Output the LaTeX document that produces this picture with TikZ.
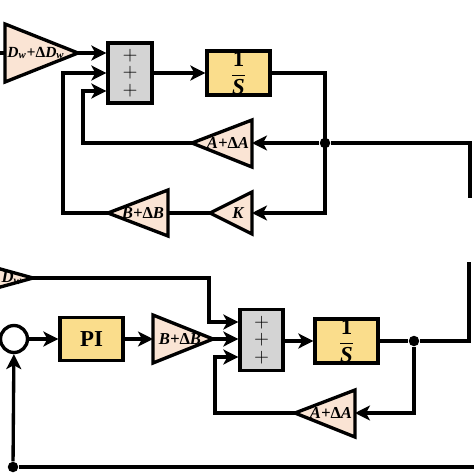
\documentclass[tikz,border=0pt]{standalone}
\usepackage{fontspec}
\setmainfont{Liberation Serif}
\usetikzlibrary{arrows.meta}
\definecolor{trifill}{RGB}{250,228,212}
\definecolor{intfill}{RGB}{250,221,140}
\definecolor{sumfill}{RGB}{212,212,212}
\tikzset{
 ln/.style={line width=1.9pt, line join=miter},
 arr/.style={ln, -{Stealth[length=0.3cm,width=0.3cm,inset=0.08cm]}},
 tri/.style={ln, draw, fill=trifill},
 trilabel/.style={font=\fontsize{9.5}{9.5}\selectfont\bfseries\itshape, inner sep=0pt},
 sumbox/.style={ln, draw, fill=sumfill, minimum width=0.88cm, minimum height=1.2cm, inner sep=0pt, align=center, font=\fontsize{11}{9.8}\selectfont},
 intbox/.style={ln, draw, fill=intfill, minimum width=1.26cm, minimum height=0.84cm, inner sep=0pt, font=\fontsize{13}{12}\selectfont\bfseries},
 jdot/.style={circle, fill=black, minimum size=0.21cm, inner sep=0pt},
}
\newcommand{\oneS}{$\displaystyle\frac{\mbox{\bfseries 1}}{\mbox{\bfseries\itshape S}}$}
\begin{document}
\begin{tikzpicture}[x=0.02cm,y=-0.02cm]
\useasboundingbox (0,0) rectangle (474,474);
% ---------------- top loop ----------------
\coordinate (inL) at (-5,53);
\draw[tri] (5,24) -- (5,82) -- (78,53) -- cycle;
\coordinate (t1base) at (5,53);
\coordinate (t1tip) at (78,53);
\node[trilabel, font=\fontsize{8.8}{9}\selectfont\bfseries\itshape] (t1) at (36,53) {D\textsubscript{w}+{\upshape Δ}D\textsubscript{w}};
\draw[ln] (inL) -- (t1base);

\node[sumbox] (s1) at (130,73) {$+$\\$+$\\$+$};
\node[intbox] (i1) at (238.5,73) {\oneS};

% A+dA top
\draw[tri] (252,120) -- (252,167) -- (192,143) -- cycle;
\coordinate (a1base) at (252,143);
\coordinate (a1tip) at (192,143);
\node[trilabel] (a1) at (228,143) {A+{\upshape Δ}A};
% K
\draw[tri] (252,192) -- (252,234) -- (210,213) -- cycle;
\coordinate (kbase) at (252,213);
\coordinate (ktip) at (210,213);
\node[trilabel] (k) at (238,213) {K};
% B+dB top
\draw[tri] (168,190) -- (168,236) -- (108,213) -- cycle;
\coordinate (b1base) at (168,213);
\coordinate (b1tip) at (108,213);
\node[trilabel] (b1) at (143,213) {B+{\upshape Δ}B};

\node[jdot] (j1) at (325,143) {};
\coordinate (e1) at (470,198);

\draw[arr] (t1tip) -- (t1tip -| s1.west);
\draw[arr] (s1.east) -- (i1.west);
\draw[arr] (i1.east) -- (325,73) -- (325,213) -- (kbase);
\draw[arr] (j1) -- (a1base);
\draw[ln] (j1) -- (470,143) -- (e1);
\draw[ln] (ktip) -- (b1base);
\draw[arr] (b1tip) -- (63,213) -- (63,73) -- (s1.west);
\draw[arr] (a1tip) -- (83,143) -- (83,91) -- (s1.west |- 0,91);

% ---------------- bottom loop ----------------
\draw[tri] (-25,262) -- (-25,294) -- (33,278) -- cycle;
\coordinate (dwtip) at (33,278);
\node[trilabel] (dw) at (12,278) {D\textsubscript{w}};

\node[circle, ln, draw, fill=white, minimum size=0.54cm, inner sep=0pt] (c) at (14,339) {};
\node[intbox, minimum height=0.86cm] (pi) at (91.5,339) {PI};
\draw[tri] (153,315) -- (153,363) -- (213,339) -- cycle;
\coordinate (b2base) at (153,339);
\coordinate (b2tip) at (213,339);
\node[trilabel] (b2) at (180,339) {B+{\upshape Δ}B};

\node[sumbox, minimum width=0.86cm, minimum height=1.22cm, font=\fontsize{11}{10}\selectfont] (s2) at (261.5,340) {$+$\\$+$\\$+$};
\node[intbox, minimum height=0.86cm] (i2) at (346.5,341) {\oneS};
\node[jdot] (j2) at (414,341) {};
\coordinate (e2) at (469,262);

\draw[tri] (355,390) -- (355,437) -- (295,413) -- cycle;
\coordinate (a2base) at (355,413);
\coordinate (a2tip) at (295,413);
\node[trilabel] (a2) at (331,413) {A+{\upshape Δ}A};

\node[jdot] (d) at (13,467) {};
\coordinate (e3) at (480,467);

\draw[arr] (dwtip) -- (209,278) -- (209,322) -- (s2.west |- 0,322);
\draw[arr] (c) -- (pi);
\draw[arr] (pi) -- (b2base);
\draw[arr] (b2tip) -- (b2tip -| s2.west);
\draw[arr] (s2.east |- i2.west) -- (i2.west);
\draw[ln] (i2.east) -- (j2) -- (469,341) -- (e2);
\draw[arr] (j2) -- (414,413) -- (a2base);
\draw[arr] (a2tip) -- (215,413) -- (215,357) -- (s2.west |- 0,357);
\draw[ln] (d) -- (e3);
\draw[arr] (d) -- (c);
\end{tikzpicture}
\end{document}
